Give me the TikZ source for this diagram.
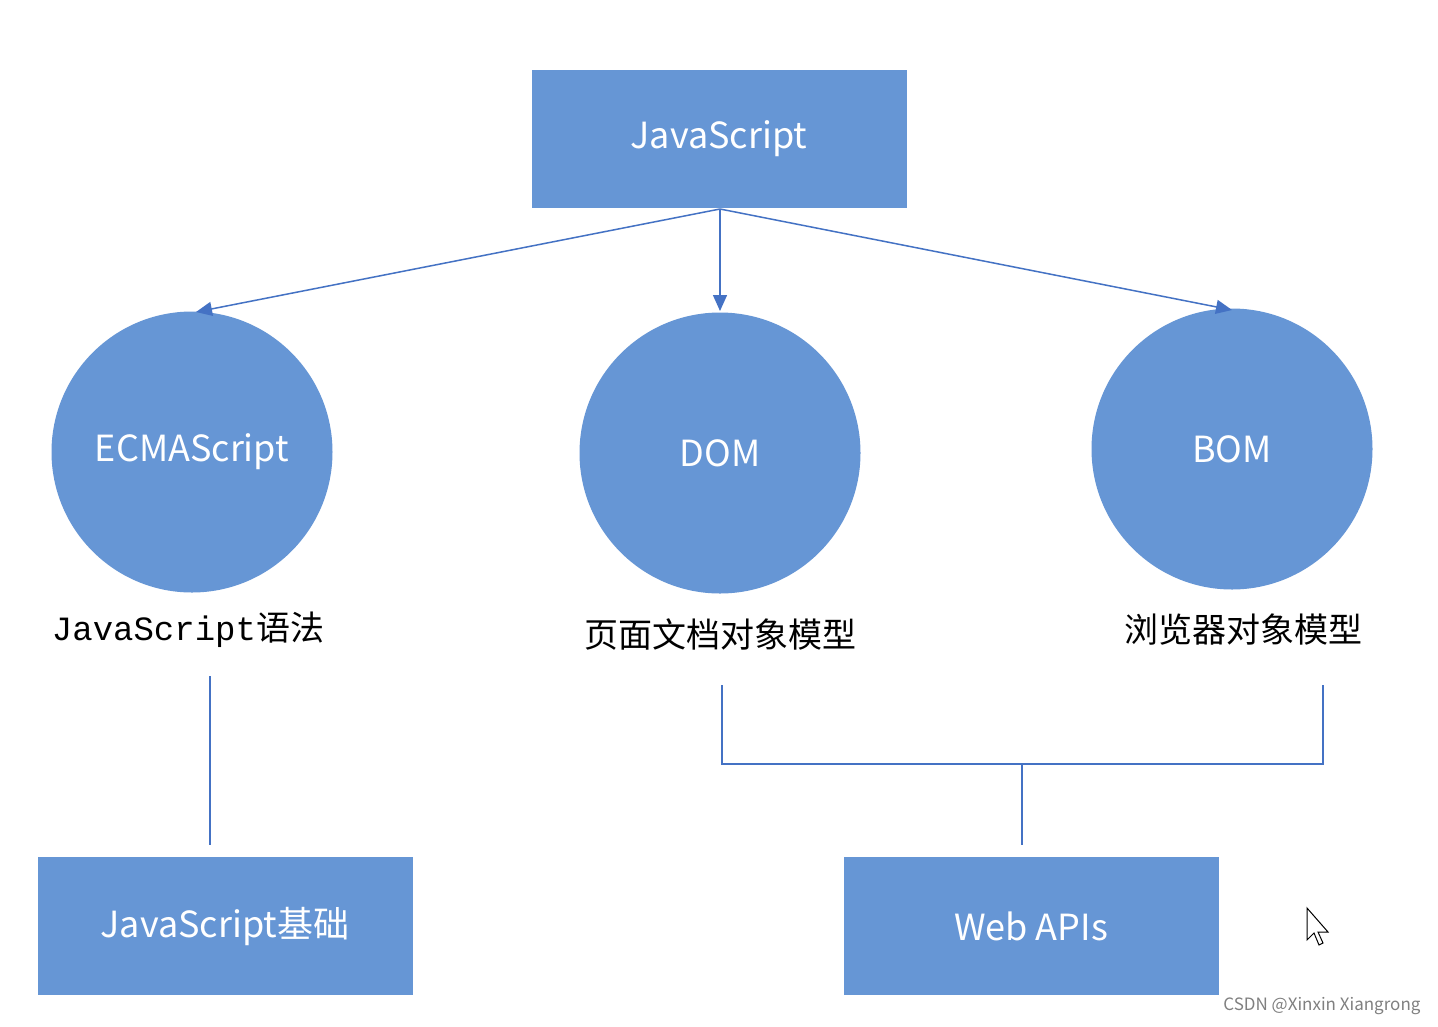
\documentclass[tikz,border=0pt]{standalone}
\usepackage{fontspec}
\setmainfont{Noto Sans CJK SC}
\newfontfamily\cjk{Noto Sans CJK SC}
\newfontfamily\mono{Liberation Mono}
\usetikzlibrary{arrows.meta}
\definecolor{boxc}{RGB}{102,150,213}
\definecolor{linec}{RGB}{68,114,196}
\begin{document}
\begin{tikzpicture}[x=1pt,y=-1pt,
  box/.style={draw=none,fill=boxc,minimum width=375pt,minimum height=138pt,text=white,font=\fontsize{36}{40}\selectfont},
  circ/.style={circle,fill=boxc,minimum size=281pt,text=white,font=\fontsize{36}{40}\selectfont},
  lab/.style={font=\fontsize{34}{40}\selectfont,text=black},
  conn/.style={draw=linec,line width=1.5pt},
  arr/.style={conn,-{Triangle[length=16pt,width=14pt]}}]
\useasboundingbox[fill=white] (0,0) rectangle (1438,1026);
\node[box] (js) at (719,139) {JavaScript};
\node[circ] (ecma) at (192,452) {ECMAScript};
\node[circ] (dom) at (720,453) {DOM};
\node[circ] (bom) at (1232,449) {BOM};
\coordinate (jsb) at (720,209);
\draw[arr] (jsb) -- (196,312);
\draw[arr] (jsb) -- (720,311);
\draw[arr] (jsb) -- (1232,310);
\node[lab] (l1) at (188,630) {{\mono JavaScript}语法};
\node[lab] (l2) at (720,635) {页面文档对象模型};
\node[lab] (l3) at (1243,630) {浏览器对象模型};
\node[box] (jsbase) at (225,926) {JavaScript基础};
\node[box] (web) at (1031,926) {Web APIs};
\coordinate (a1) at (210,676);
\draw[conn] (a1) -- (210,845);
\coordinate (d1) at (722,685);
\coordinate (d2) at (1323,685);
\draw[conn] (d1) -- (722,764) -- (1323,764) -- (d2);
\draw[conn] (1022,764) -- (1022,845);
\draw[black,line width=1pt,fill=white] (1307,908) -- (1307,940) -- (1314,933) -- (1319,945) -- (1323,943) -- (1318,932) -- (1328,932) -- cycle;
\node[text=gray,font=\fontsize{17}{20}\selectfont,anchor=east] (wm) at (1424,1006) {CSDN @Xinxin Xiangrong};
\end{tikzpicture}
\end{document}
